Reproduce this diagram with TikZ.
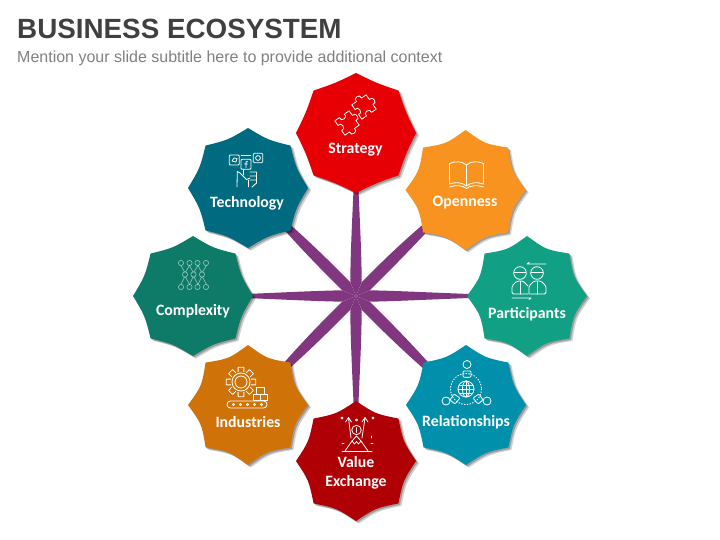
\documentclass[tikz,border=0pt]{standalone}
\usepackage{fontspec}
\setmainfont{Liberation Sans}
\newfontfamily\labelfont{Carlito}
\usetikzlibrary{calc}
\pgfdeclarelayer{edgelayer}
\pgfsetlayers{edgelayer,main}
\definecolor{strategycol}{HTML}{E60005}
\definecolor{opennesscol}{HTML}{F99320}
\definecolor{participantscol}{HTML}{12A085}
\definecolor{relationshipscol}{HTML}{0090AC}
\definecolor{valuecol}{HTML}{AF0005}
\definecolor{industriescol}{HTML}{CF7208}
\definecolor{complexitycol}{HTML}{0E7B68}
\definecolor{technologycol}{HTML}{006A80}
\definecolor{spokecol}{HTML}{813680}
\tikzset{
  blobnode/.style={circle, inner sep=0pt, minimum size=120pt},
  bloblabel/.style={text=white, font=\labelfont\fontsize{15.8}{15.8}\selectfont\bfseries, inner sep=0pt},
  icon/.style={draw=white, line width=0.8pt, line join=round, line cap=round},
  iconfaint/.style={draw=white, draw opacity=0.5, line width=0.7pt},
}
\newcommand{\blobpath}[2]{($(#1)+(0:60)$) \foreach \i in {0,45,...,315}{ .. controls ($(#1)+(\i+22.5:#2)$) .. ($(#1)+(\i+45:60)$) } -- cycle}
\newcommand{\starblob}[4]{
  \fill[black, opacity=0.18, shift={(3,2.5)}] \blobpath{#2}{#4};
  \fill[black, opacity=0.25, shift={(1.5,1.5)}] \blobpath{#2}{#4};
  \fill[#3] \blobpath{#2}{#4};
  \node [blobnode] (#1) at (#2) {};
}
\newcommand{\puzzlepiece}[1]{
  \draw[icon, #1] (-7,-7) -- (-2.5,-7) .. controls (-4,-11) and (4,-11) .. (2.5,-7) -- (7,-7) -- (7,-2.5) .. controls (11,-4) and (11,4) .. (7,2.5) -- (7,7) -- (2.5,7) .. controls (4,3) and (-4,3) .. (-2.5,7) -- (-7,7) -- (-7,2.5) .. controls (-3,4) and (-3,-4) .. (-7,-2.5) -- cycle;
}
\begin{document}
\begin{tikzpicture}[x=1pt, y=-1pt]
  \useasboundingbox (0,0) rectangle (720,540);

  \node [anchor=west, inner sep=0pt, text=black!75, font=\fontsize{27.8}{27.8}\selectfont\bfseries] (title) at (17,29) {BUSINESS ECOSYSTEM};
  \node [anchor=west, inner sep=0pt, text=black!50, font=\fontsize{16}{16}\selectfont] (subtitle) at (17,58) {Mention your slide subtitle here to provide additional context};

  % blobs
  \starblob{strategy}{356,133}{strategycol}{54}
  \starblob{openness}{465.5,190}{opennesscol}{50}
  \starblob{participants}{527,296}{participantscol}{50}
  \starblob{relationships}{466,405}{relationshipscol}{51}
  \starblob{value}{356,461}{valuecol}{51}
  \starblob{industries}{248,405}{industriescol}{50}
  \starblob{complexity}{193,296}{complexitycol}{52}
  \starblob{technology}{248,188}{technologycol}{52}
  \node [blobnode, minimum size=2pt] (hub) at (356,296) {};

  % labels
  \node [bloblabel] (strategylabel) at (355.5,150) {Strategy};
  \node [bloblabel] (opennesslabel) at (465,203) {Openness};
  \node [bloblabel] (participantslabel) at (527,314) {Participants};
  \node [bloblabel] (relationshipslabel) at (466,422) {Relationships};
  \node [bloblabel] (valuelabel) at (356,462.5) {Value};
  \node [bloblabel] (exchangelabel) at (356,482) {Exchange};
  \node [bloblabel] (industrieslabel) at (248,422) {Industries};
  \node [bloblabel] (complexitylabel) at (193,311) {Complexity};
  \node [bloblabel] (technologylabel) at (247,203) {Technology};

  % spokes
  \begin{pgfonlayer}{edgelayer}
    \foreach \n/\a/\wa/\wb in {strategy/270/5.5/3, value/90/5.5/3, participants/0/5/2.5, complexity/180/5/2.5, openness/315/6/5.5, relationships/45/6/5.5, industries/135/6/5.5, technology/225/6/5.5}{
      \fill[spokecol] (hub.center)
        -- ($(hub.center)+(\a:13.9)+(\a+90:5.7)$)
        .. controls ($(hub.center)+(\a:50)+(\a+90:\wa)$) and ($(hub.center)+(\a:90)+(\a+90:\wb)$) .. (\n.center)
        .. controls ($(hub.center)+(\a:90)+(\a-90:\wb)$) and ($(hub.center)+(\a:50)+(\a-90:\wa)$) .. ($(hub.center)+(\a:13.9)+(\a-90:5.7)$)
        -- cycle;
    }
  \end{pgfonlayer}

  % strategy icon
  \begin{scope}[shift={(364,107)}, scale=1.25]
    \puzzlepiece{rotate=35}
  \end{scope}
  \begin{scope}[shift={(347,123)}, scale=1.25]
    \puzzlepiece{rotate=-55}
  \end{scope}

  % technology icon
  \draw[icon, rounded corners=1pt] (229.3,155) rectangle (239.3,165);
  \draw[icon, rounded corners=1pt] (241,159.3) rectangle (251,169.3);
  \draw[icon, rounded corners=1pt] (253.3,153.3) rectangle (262.7,162.7);
  \draw[icon] (241,155) -- (251,155);
  \draw[icon] (258,158) circle (2.4);
  \draw[icon] (232,161) -- (234,158) -- (237,158.5) -- (236,162) -- cycle;
  \draw[icon] (247.5,161.5) -- (246,162) -- (246,167.5) (244.5,164) -- (247.5,164);
  \draw[icon] (237,187) -- (237.3,171.5) -- (240,173) -- (246.5,179.5) -- (250,178);
  \draw[icon] (250,172) -- (256.5,172) -- (256.5,183) -- (252,187) (250,176) -- (256.5,176) (250,180) -- (256.5,180);
  \draw[icon] (248.3,180) -- (248.3,187);
  \draw[icon] (243,175) -- (243,169.5);

  % openness icon
  \draw[icon] (449.5,184) -- (449.5,163.5) .. controls (455,161) and (462,161) .. (466.5,165) .. controls (471,161) and (478,161) .. (483.5,163.5) -- (483.5,184) .. controls (478,182) and (471,182) .. (466.5,186) .. controls (462,182) and (455,182) .. (449.5,184) -- cycle;
  \draw[icon] (466.5,165) -- (466.5,186);
  \draw[icon] (449.5,187) .. controls (455,185) and (462,185) .. (466.5,188.5) .. controls (471,185) and (478,185) .. (483.5,187);

  % participants icon
  \draw[icon] (520,273) circle (6.3);
  \draw[icon] (537,273) circle (6.3);
  \draw[icon] (514,272) -- (526,272) (531,272) -- (543,272);
  \draw[icon, rounded corners=1.5pt] (528,294) -- (512,294) -- (512,286) -- (517,281) -- (523,281) -- (528,286);
  \draw[icon, rounded corners=1.5pt] (530,294) -- (546,294) -- (546,286) -- (541,281) -- (534,281) -- (529,286) -- (529,294);
  \draw[icon] (520,281) -- (520,294) (537,281) -- (537,294);
  \draw[icon] (527,264) -- (546,264) (527,264) -- (529,262.5) (512,298) -- (531,298) (531,298) -- (529,299.5);

  % relationships icon
  \draw[icon] (466,389) circle (8);
  \draw[icon] (466,389) ellipse (3.5 and 8);
  \draw[icon] (458,389) -- (474,389) (459.5,385) -- (472.5,385) (459.5,393) -- (472.5,393) (466,381) -- (466,397);
  \draw[icon, dotted, line width=1pt] (466,389) circle (15.5);
  \draw[icon] (467,364.5) circle (4);
  \draw[icon, rounded corners=1pt] (463,377) -- (463,371) -- (471,371) -- (471,377) -- (467,377.5) -- cycle;
  \draw[icon] (446,401) circle (4);
  \draw[icon, rounded corners=1pt] (450,400) -- (454,394) -- (460,398) -- (455,404) -- cycle;
  \draw[icon] (487,401) circle (4);
  \draw[icon, rounded corners=1pt] (483,400) -- (479,394) -- (473,398) -- (478,404) -- cycle;

  % value icon
  \draw[icon] (342,451) -- (372,451);
  \draw[icon] (345,451) -- (352,441) -- (356.5,436) -- (361,441) -- (368,451);
  \draw[icon] (352,441) -- (354.5,444) -- (356.5,441.5) -- (358.5,444) -- (361,441);
  \draw[icon] (356.5,430) circle (4.7);
  \draw[icon] (356.5,427.5) -- (356.5,432.5);
  \draw[icon] (351,438) -- (348.5,418) (345.5,422) -- (348.5,417.5) -- (351.5,422);
  \draw[icon] (362,438) -- (365,418) (362,422) -- (365,417.5) -- (368,422);
  \draw[icon] (342,418) circle (1.1) (373,418) circle (1.1) (356.5,420) circle (1.1);
  \draw[icon] (342,443) -- (344,443) (373,443) -- (371,443) (371,436) -- (371,438);

  % industries icon
  \draw[icon] (241,382) circle (9);
  \draw[icon] (241,382) circle (6);
  \foreach \a in {0,45,...,315}{
    \draw[icon] ($(241,382)+(\a-16:10.5)$) -- ($(241,382)+(\a-11:15)$) -- ($(241,382)+(\a+11:15)$) -- ($(241,382)+(\a+16:10.5)$);
  }
  \draw[icon, rounded corners=3.4pt] (227,401) rectangle (267,408);
  \foreach \x in {234,241,248,255,262}{
    \draw[icon] (\x-0.5,404.5) circle (1.1);
  }
  \draw[icon] (256.5,387.5) rectangle (264,394.5);
  \draw[icon] (253,394.5) rectangle (260,400.5);
  \draw[icon] (260,394.5) rectangle (267,400.5);

  % complexity icon
  \foreach \x in {181,189.5,197.5,206}{
    \draw[iconfaint] (\x,263) circle (2.6);
    \draw[iconfaint] (\x,287) circle (2.6);
  }
  \foreach \x in {185,193.5,202}{
    \draw[iconfaint] (\x,274.5) circle (2.6);
    \draw[iconfaint] (\x-4,265.5) -- (\x-0.5,272) (\x+4.5,265.5) -- (\x+0.5,272);
    \draw[iconfaint] (\x-4,284.5) -- (\x-0.5,277) (\x+4.5,284.5) -- (\x+0.5,277);
  }
\end{tikzpicture}
\end{document}
